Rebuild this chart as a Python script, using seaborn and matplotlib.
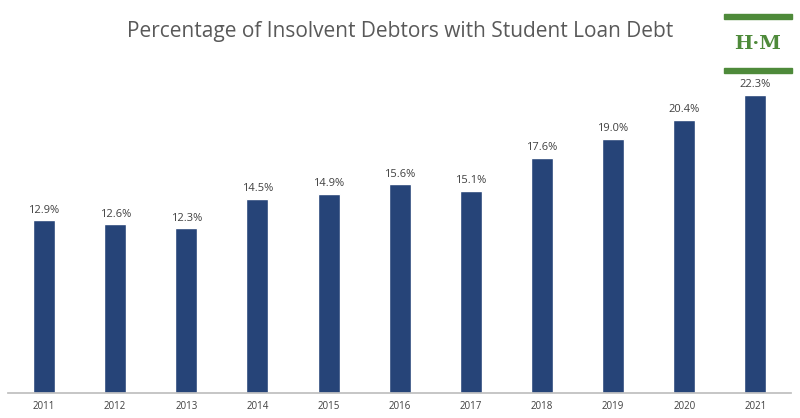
import matplotlib
matplotlib.use("Agg")
import matplotlib.pyplot as plt
import seaborn as sns
import pandas as pd
from matplotlib.patches import Rectangle

years = ["2011","2012","2013","2014","2015","2016","2017","2018","2019","2020","2021"]
values = [12.9,12.6,12.3,14.5,14.9,15.6,15.1,17.6,19.0,20.4,22.3]
labels = [f"{v:.1f}%" for v in values]

sns.set_theme(style="white")
plt.rcParams['font.family'] = ['Open Sans', 'DejaVu Sans']
fig = plt.figure(figsize=(8, 4.18), dpi=100)
ax = fig.add_axes([0.0106, 0.06, 0.978, 0.80])
df = pd.DataFrame({"year": years, "val": values})
sns.barplot(data=df, x="year", y="val", color="#264478", width=0.31, saturation=1, ax=ax)
ax.set_ylim(0, 25)
ax.set_xlim(-0.5, 10.5)
for i, (v, l) in enumerate(zip(values, labels)):
    ax.text(i, v + 0.35, l, ha="center", va="bottom", fontsize=8, color="#404040")
for s in ["top", "right", "left"]:
    ax.spines[s].set_visible(False)
ax.spines["bottom"].set_color("#bfbfbf")
ax.set_yticks([])
ax.set_xlabel(""); ax.set_ylabel("")
ax.tick_params(axis="x", length=0, labelsize=7, colors="#404040", pad=6)
fig.text(0.5, 0.925, "Percentage of Insolvent Debtors with Student Loan Debt",
         ha="center", va="center", fontsize=15, color="#595959")
# logo
g = "#4e8a3a"
fig.patches.append(Rectangle((0.905, 0.955), 0.085, 0.012, transform=fig.transFigure, color=g))
fig.patches.append(Rectangle((0.905, 0.825), 0.085, 0.012, transform=fig.transFigure, color=g))
fig.text(0.9475, 0.895, "H·M", ha="center", va="center", fontsize=14, color=g,
         family="DejaVu Serif", fontweight="bold")
fig.savefig("out.png", dpi=100)
